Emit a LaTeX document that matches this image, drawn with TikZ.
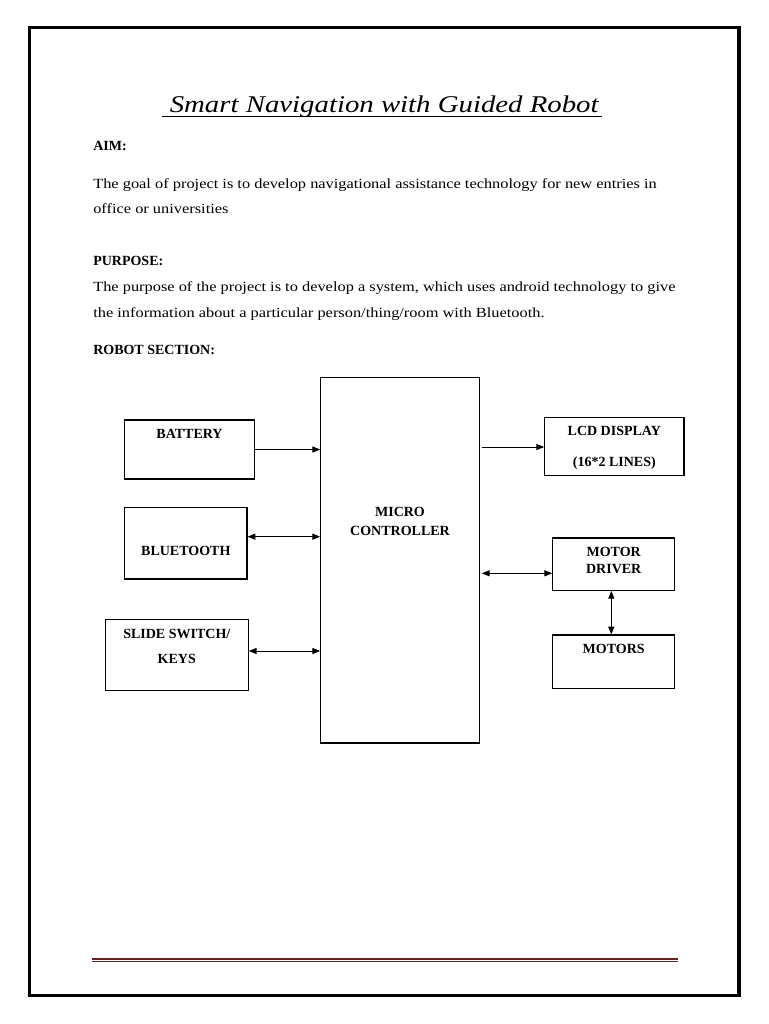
\documentclass[tikz,border=0pt]{standalone}
\usepackage{fontspec}
\setmainfont{Liberation Serif}
\newfontfamily\bodyfont{Liberation Serif}[FakeStretch=1.17]
\newfontfamily\plainfont{Liberation Serif}
\newfontfamily\titlefont{Liberation Serif}[FakeStretch=1.2]
\usetikzlibrary{arrows.meta,fit,calc}
\definecolor{rulered}{HTML}{622423}
\tikzset{
  bodytxt/.style={anchor=base west, inner sep=0pt, font=\bodyfont\fontsize{10.5}{12}\selectfont},
  headtxt/.style={anchor=base west, inner sep=0pt, font=\plainfont\bfseries\fontsize{10.5}{12}\selectfont},
  lbl/.style={anchor=base, inner sep=0pt, font=\plainfont\bfseries\fontsize{10.5}{12}\selectfont},
  blockbox/.style={draw, line width=0.8pt, inner sep=0pt},
  link/.style={line width=0.75pt},
  >={Triangle[length=5.8pt,width=4.5pt]}
}
\begin{document}
\begin{tikzpicture}[x=0.75pt,y=-0.75pt]
\useasboundingbox (0,0) rectangle (768,1024);
% page frame
\draw[line width=2.5pt] (29.3,27.7) rectangle (739,995.5);
% title
\node[anchor=base, inner sep=0pt, font=\titlefont\itshape\fontsize{18}{21}\selectfont] (title) at (384.2,112.7) {Smart Navigation with Guided Robot};
\draw[line width=1pt] (162.3,116.7) -- (601.7,116.7);
% text
\node[headtxt] (aim) at (93,150) {AIM:};
\node[bodytxt] (goal1) at (93,188.3) {The goal of project is to develop navigational assistance technology for new entries in};
\node[bodytxt] (goal2) at (93,213) {office or universities};
\node[headtxt] (purp) at (93,265.7) {PURPOSE:};
\node[bodytxt] (p1) at (93,291.7) {The purpose of the project is to develop a system, which uses android technology to give};
\node[bodytxt] (p2) at (93,317.3) {the information about a particular person/thing/room with Bluetooth.};
\node[headtxt] (robot) at (93,354.3) {ROBOT SECTION:};
% blocks
\node[blockbox, fit={(320.7,377.3) (479.3,743)}] (mc) {};
\node[blockbox, fit={(124.7,420) (254.3,479)}] (bat) {};
\node[blockbox, fit={(124.7,507.3) (247,579)}] (bt) {};
\node[blockbox, fit={(105.3,619.3) (248.3,690.7)}] (sw) {};
\node[blockbox, fit={(544.7,417.3) (684,475.3)}] (lcd) {};
\node[blockbox, fit={(552.7,538) (674.7,590.3)}] (drv) {};
\node[blockbox, fit={(552.7,635) (674.7,688.3)}] (mot) {};
% labels
\node[lbl] (batL) at (189.5,438.3) {BATTERY};
\node[lbl] (btL) at (185.8,555.3) {BLUETOOTH};
\node[lbl] (swL1) at (176.8,638.3) {SLIDE SWITCH/};
\node[lbl] (swL2) at (176.8,663.3) {KEYS};
\node[lbl] (mcL1) at (400,516.7) {MICRO};
\node[lbl] (mcL2) at (400,535.7) {CONTROLLER};
\node[lbl] (lcdL1) at (614.3,435.3) {LCD DISPLAY};
\node[lbl] (lcdL2) at (614.3,466.7) {(16*2 LINES)};
\node[lbl] (drvL1) at (613.7,556.7) {MOTOR};
\node[lbl] (drvL2) at (613.7,573.3) {DRIVER};
\node[lbl] (motL) at (613.7,653.3) {MOTORS};
% connectors
\draw[link,->] (bat.east) -- (mc.west |- bat.east);
\coordinate (btY) at (0,536.7);
\draw[link,<->] (bt.east |- btY) -- (mc.west |- btY);
\coordinate (swY) at (0,651);
\draw[link,<->] (sw.east |- swY) -- (mc.west |- swY);
\coordinate (lcdY) at (0,447);
\draw[link,->,shorten <=1.5pt] (mc.east |- lcdY) -- (lcd.west |- lcdY);
\coordinate (drvY) at (0,573.3);
\draw[link,<->,shorten <=1.5pt] (mc.east |- drvY) -- (drv.west |- drvY);
\coordinate (vX) at (611.3,0);
\draw[link,<->] (drv.south -| vX) -- (mot.north -| vX);
% footer rule
\draw[rulered, line width=1.7pt] (92,958.8) -- (678,958.8);
\draw[rulered, line width=0.75pt] (92,961.8) -- (678,961.8);
\end{tikzpicture}
\end{document}
